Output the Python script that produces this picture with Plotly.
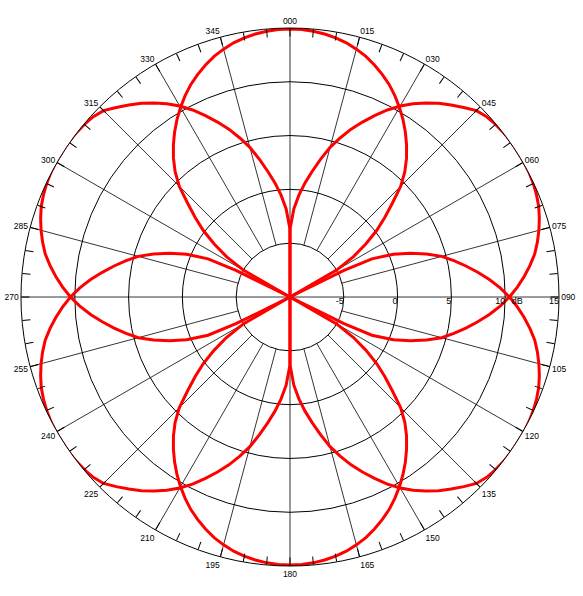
import plotly.graph_objects as go

# lobe axes (deg, clockwise from north)
main_axes = [0, 180]
side_axes = [60, 120, 240, 300]
# +1: negative offsets point toward 0/360, -1: toward 180
side_dirs = [1, -1, 1, -1]

# main lobe, offset from its axis (deg) -> level (dB)
main_half_off = [0, 2.5, 5, 7.5, 10, 12.5, 15, 17.5, 20, 22.5, 25, 27.5, 30,
                 32.5, 35, 37.5, 40, 42.5, 45, 47.5, 50, 52.5, 55, 57.5, 60, 60.5]
main_half_db = [14.9, 14.88, 14.8, 14.65, 14.45, 14.2, 13.85, 13.45, 12.95, 12.4,
                11.8, 11.1, 10.35, 9.55, 8.7, 7.8, 6.85, 5.8, 4.55, 2.9, 1.5, 0.15,
                -1.4, -3.0, -5.0, -10]
main_off = [-o for o in main_half_off[:0:-1]] + main_half_off
main_db = main_half_db[:0:-1] + main_half_db

# side lobe, offset from its axis (negative = toward the nearer main lobe)
side_off = [-60.3, -60, -57.5, -55, -52.5, -50, -47.5, -45, -42.5, -40, -37.5, -35,
            -32.5, -30, -27.5, -25, -22.5, -20, -17.5, -15, -12.5, -10, -7.5, -5,
            -2.5, 0, 2.5, 5, 7.5, 10, 12.5, 15, 17.5, 20, 22.5, 25, 27.5, 30, 32.5,
            35, 37.5, 40, 42.5, 45, 47.5, 50, 52.5, 55, 56.3, 57]
side_db = [-10, -3.7, -1.8, -0.5, 0.7, 1.85, 3.1, 4.4, 5.5, 6.6, 7.6, 8.6,
           9.6, 10.5, 11.3, 12.0, 12.7, 13.3, 13.9, 14.5, 14.8, 14.95, 15.05, 15.1,
           15.1, 15.1, 15.05, 14.95, 14.8, 14.6, 14.3, 13.95, 13.55, 13.1, 12.5, 11.85, 11.15, 10.4, 9.55,
           8.6, 7.6, 6.6, 5.6, 4.6, 3.3, 1.9, 0.4, -1.6, -4.4, -10]

angle_ticks = list(range(0, 360, 5))
angle_labels = ['%03d' % a if a % 15 == 0 else '' for a in angle_ticks]
spoke_angles = list(range(0, 360, 15))
r_ticks = [-5, 0, 5, 10, 15]
r_labels = ['-5', '0', '5', '10', '15']

r_min, r_max = -10, 15

fig = go.Figure()

# spokes (the 4 axes go through the centre, the others start at -5 dB)
sp_r, sp_t = [], []
for a in spoke_angles:
    start = r_min if a % 90 == 0 else -5
    sp_r += [start, r_max, None]
    sp_t += [a, a, None]
fig.add_trace(go.Scatterpolar(r=sp_r, theta=sp_t, mode='lines',
                              line=dict(color='black', width=0.8),
                              hoverinfo='skip'))

line_style = dict(color='#ff0000', width=3)
for ax in main_axes:
    fig.add_trace(go.Scatterpolar(r=main_db, theta=[ax + o for o in main_off],
                                  mode='lines', line=line_style))
for ax, d in zip(side_axes, side_dirs):
    fig.add_trace(go.Scatterpolar(r=side_db, theta=[ax + d * o for o in side_off],
                                  mode='lines', line=line_style))

# radial labels along the 090 axis
fig.add_trace(go.Scatterpolar(r=r_ticks, theta=[90] * len(r_ticks), mode='text',
                              text=r_labels, textposition='bottom left',
                              textfont=dict(size=9, color='black'),
                              hoverinfo='skip'))
fig.add_trace(go.Scatterpolar(r=[10.6], theta=[90], mode='text', text=['dB'],
                              textposition='bottom right',
                              textfont=dict(size=9, color='black'),
                              hoverinfo='skip'))

fig.update_layout(
    width=583, height=596,
    margin=dict(l=0, r=0, t=0, b=0),
    paper_bgcolor='white',
    showlegend=False,
    font=dict(family='Liberation Sans, Arial', size=9, color='black'),
    polar=dict(
        domain=dict(x=[0.036, 0.9588], y=[0.0503, 0.953]),
        bgcolor='white',
        angularaxis=dict(rotation=90, direction='clockwise',
                         tickmode='array', tickvals=angle_ticks, ticktext=angle_labels,
                         ticks='inside', ticklen=8, tickcolor='black', tickwidth=1,
                         showgrid=False, showline=True, linecolor='black', linewidth=1,
                         tickfont=dict(size=8.5, color='black')),
        radialaxis=dict(range=[r_min, r_max], angle=0,
                        tickmode='array', tickvals=r_ticks,
                        showticklabels=False, ticks='',
                        showgrid=True, gridcolor='black', gridwidth=1,
                        showline=False)
    )
)

config = {'displayModeBar': False, 'staticPlot': True}
# drop the default page margin so the figure fills the window
fig.write_html('out.html', config=config,
               post_script="document.body.style.margin='0px';")
